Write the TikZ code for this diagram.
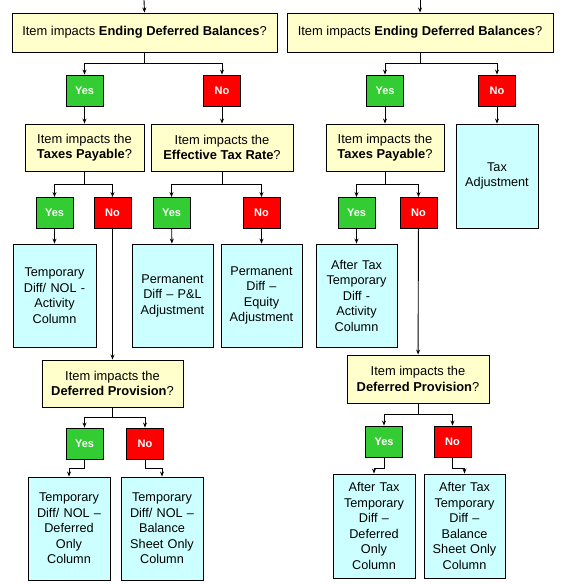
\documentclass[tikz,border=0pt]{standalone}
\usepackage{fontspec}
\setmainfont{Liberation Sans}
\usetikzlibrary{arrows.meta}
\definecolor{qfill}{HTML}{FFFFCC}
\definecolor{lfill}{HTML}{CCFFFF}
\definecolor{yfill}{HTML}{33CC33}
\definecolor{nfill}{HTML}{FF0000}
\tikzset{
  base/.style={draw=black, line width=0.9pt, rectangle, inner sep=0pt, align=center, anchor=center},
  qbox/.style={base, fill=qfill, font=\fontsize{12.9}{15.5}\selectfont},
  leafbox/.style={base, fill=lfill, minimum width=82pt, minimum height=103pt, text width=78pt, font=\fontsize{12.7}{15.5}\selectfont},
  yesbox/.style={base, fill=yfill, minimum width=37pt, minimum height=31pt, text=white, font=\fontsize{11}{13}\selectfont\bfseries},
  nobox/.style={base, fill=nfill, minimum width=37pt, minimum height=31pt, text=white, font=\fontsize{11}{13}\selectfont\bfseries},
  arr/.style={draw=black, line width=0.9pt, -{Stealth[length=5pt,width=4pt]}},
}
\begin{document}
\begin{tikzpicture}[x=1pt,y=-1pt]
\useasboundingbox (0,0) rectangle (564,584);
% ---------- left tree ----------
\coordinate (topL) at (144,0);
\node[qbox, minimum width=265pt, minimum height=39pt] (qL1) at (144.5,32.5) {Item impacts \textbf{Ending Deferred Balances}?};
\node[yesbox] (yL1) at (84.5,90.5) {Yes};
\node[nobox] (nL1) at (222,90.5) {No};
\node[qbox, minimum width=119pt, minimum height=47pt] (qL2) at (84.5,147.5) {Item impacts the\\\textbf{Taxes Payable}?};
\node[qbox, minimum width=142pt, minimum height=47pt] (qL3) at (222,147.5) {Item impacts the\\\textbf{Effective Tax Rate}?};
\node[yesbox] (yL2) at (54.5,213) {Yes};
\node[nobox] (nL2) at (112.5,213) {No};
\node[yesbox] (yL3) at (171.5,213) {Yes};
\node[nobox] (nL3) at (261.5,213) {No};
\node[leafbox, minimum width=83pt] (lA) at (54.5,295.5) {Temporary\\Diff/ NOL -\\Activity\\Column};
\node[leafbox, minimum width=81pt] (lB) at (172.5,295.5) {Permanent\\Diff -- P\&L\\Adjustment};
\node[leafbox, minimum width=81pt] (lC) at (261.5,295.5) {Permanent\\Diff --\\Equity\\Adjustment};
\node[qbox, minimum width=141pt, minimum height=47pt] (qL4) at (112.5,383.5) {Item impacts the\\\textbf{Deferred Provision}?};
\node[yesbox] (yL4) at (84.5,443.5) {Yes};
\node[nobox] (nL4) at (145,443.5) {No};
\node[leafbox] (lD) at (69,528.5) {Temporary\\Diff/ NOL --\\Deferred\\Only\\Column};
\node[leafbox] (lE) at (162,528.5) {Temporary\\Diff/ NOL --\\Balance\\Sheet Only\\Column};
% ---------- right tree ----------
\coordinate (topR) at (420,0);
\node[qbox, minimum width=266pt, minimum height=39pt] (qR1) at (420,32.5) {Item impacts \textbf{Ending Deferred Balances}?};
\node[yesbox] (yR1) at (385,90.5) {Yes};
\node[nobox] (nR1) at (497,90.5) {No};
\node[qbox, minimum width=118pt, minimum height=47pt] (qR2) at (385,147.5) {Item impacts the\\\textbf{Taxes Payable}?};
\node[leafbox, minimum height=104pt] (lT) at (497,176) {Tax\\Adjustment};
\node[yesbox] (yR2) at (356.5,213) {Yes};
\node[nobox] (nR2) at (418.5,213) {No};
\node[leafbox, minimum width=81pt] (lF) at (356.5,295.5) {After Tax\\Temporary\\Diff -\\Activity\\Column};
\node[qbox, minimum width=142pt, minimum height=48pt] (qR3) at (418,379) {Item impacts the\\\textbf{Deferred Provision}?};
\node[yesbox] (yR3) at (384,441.5) {Yes};
\node[nobox] (nR3) at (452.5,441.5) {No};
\node[leafbox, minimum height=104pt] (lG) at (374,526) {After Tax\\Temporary\\Diff --\\Deferred\\Only\\Column};
\node[leafbox, minimum width=81pt, minimum height=104pt] (lH) at (464.5,526) {After Tax\\Temporary\\Diff --\\Balance\\Sheet Only\\Column};
% ---------- connectors left ----------
\draw[arr] (topL) -- (qL1.north);
\draw[arr] (qL1.south) -- ++(0,11) -| (yL1.north);
\draw[arr] (qL1.south) -- ++(0,11) -| (nL1.north);
\draw[arr] (yL1) -- (qL2);
\draw[arr] (nL1) -- (qL3);
\draw[arr] (qL2.south) -- ++(0,13) -| (yL2.north);
\draw[arr] (qL2.south) -- ++(0,13) -| (nL2.north);
\draw[arr] (qL3.south) -- ++(0,13) -| (yL3.north);
\draw[arr] (qL3.south) -- ++(0,13) -| (nL3.north);
\draw[arr] (yL2) -- (lA);
\draw[arr] (yL3) -- (lB);
\draw[arr] (nL3) -- (lC);
\draw[arr] (nL2) -- (qL4);
\draw[arr] (qL4.south) -- ++(0,10) -| (yL4.north);
\draw[arr] (qL4.south) -- ++(0,10) -| (nL4.north);
\draw[arr] (yL4.south) -- ++(0,9) -| (lD.north);
\draw[arr] (nL4.south) -- ++(0,9) -| (lE.north);
% ---------- connectors right ----------
\draw[arr] (topR) -- (qR1.north);
\draw[arr] (qR1.south) -- ++(0,11) -| (yR1.north);
\draw[arr] (qR1.south) -- ++(0,11) -| (nR1.north);
\draw[arr] (yR1) -- (qR2);
\draw[arr] (nR1) -- (lT);
\draw[arr] (qR2.south) -- ++(0,13) -| (yR2.north);
\draw[arr] (qR2.south) -- ++(0,13) -| (nR2.north);
\draw[arr] (yR2) -- (lF);
\draw[arr] (nR2) -- (qR3);
\draw[arr] (qR3.south) -- ++(0,11) -| (yR3.north);
\draw[arr] (qR3.south) -- ++(0,11) -| (nR3.north);
\draw[arr] (yR3.south) -- ++(0,11) -| (lG.north);
\draw[arr] (nR3.south) -- ++(0,11) -| (lH.north);
\end{tikzpicture}
\end{document}
